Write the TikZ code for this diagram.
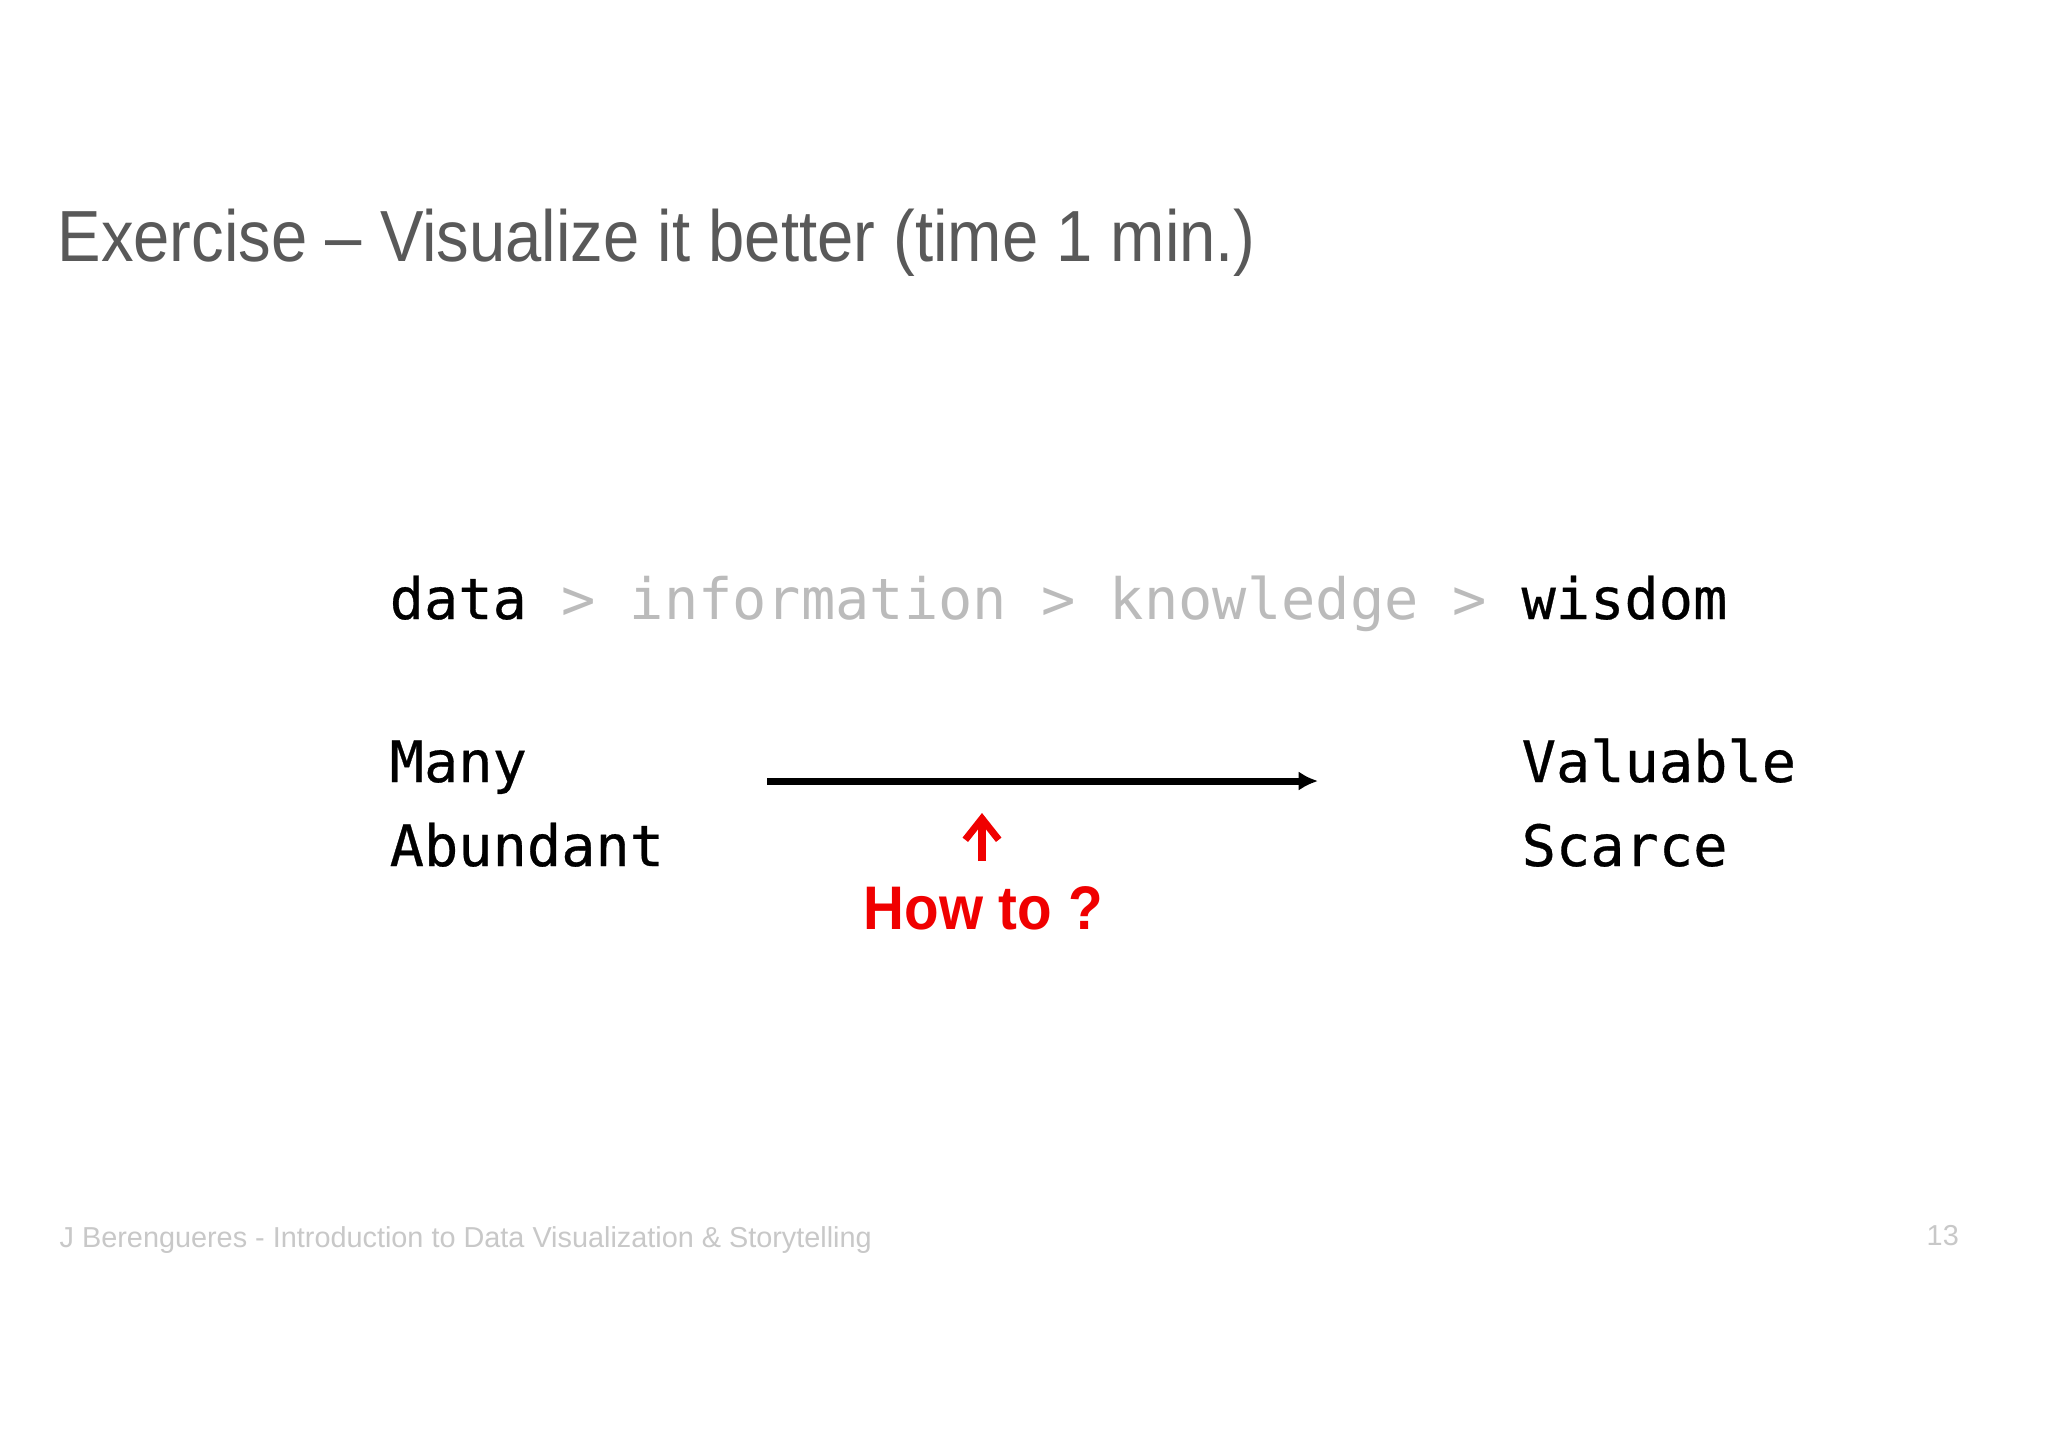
\documentclass[tikz,border=0pt]{standalone}
\usepackage{fontspec}
\setmainfont{Liberation Sans}
\setmonofont{DejaVu Sans Mono}
\newfontfamily\monomid{DejaVu Sans Mono}[FakeBold = 0.5]
\usepackage{tikz}
\usetikzlibrary{arrows.meta}

\definecolor{titlegray}{HTML}{595959}
\definecolor{stepgray}{HTML}{BBBBBB}
\definecolor{footgray}{HTML}{C8C8C8}
\definecolor{howred}{HTML}{F00000}

\begin{document}
\begin{tikzpicture}[x = 0.01cm, y = -0.01cm, every node/.style = {inner sep = 0pt, anchor = base west},
    mono/.style = {font = \fontsize{16.2}{19}\selectfont\monomid},
    foot/.style = {text = footgray, font = \fontsize{8.2}{10}\selectfont}]
    \useasboundingbox[fill = white] (0, 0) rectangle (2048, 1447);
    \node (title) at (57, 261) [text = titlegray, font = \fontsize{20.6}{24}\selectfont, xscale = .9] {Exercise -- Visualize it better (time 1 min.)};
    \node (chain) at (389, 619) [mono] {data {\ttfamily\color{stepgray}> information > knowledge >} wisdom};
    \node (many) at (389, 782) [mono] {Many};
    \node (abundant) at (389, 866) [mono] {Abundant};
    \node (valuable) at (1521, 782) [mono] {Valuable};
    \node (scarce) at (1521, 866) [mono] {Scarce};
    \node (howto) at (863, 929) [text = howred, font = \fontsize{17.5}{20}\selectfont\bfseries, xscale = .92] {How to ?};
    \coordinate (from) at (767, 781);
    \coordinate (to) at (1318, 781);
    \coordinate (up) at (982, 813);
    \draw[-{Latex[length = 5.5pt, width = 5.5pt]}, line width = 2pt] (from) -- (to);
    %\draw[howred] (howto.north) -- (up);
    \draw[-{Straight Barb[length = 6pt, width = 9.5pt]}, howred, line width = 2pt] (up |- 0, 861) -- (up);
    \node (credit) at (59, 1247) [foot] {J Berengueres - Introduction to Data Visualization \& Storytelling};
    \node (page) at (1926, 1245) [foot] {13};
\end{tikzpicture}
\end{document}
